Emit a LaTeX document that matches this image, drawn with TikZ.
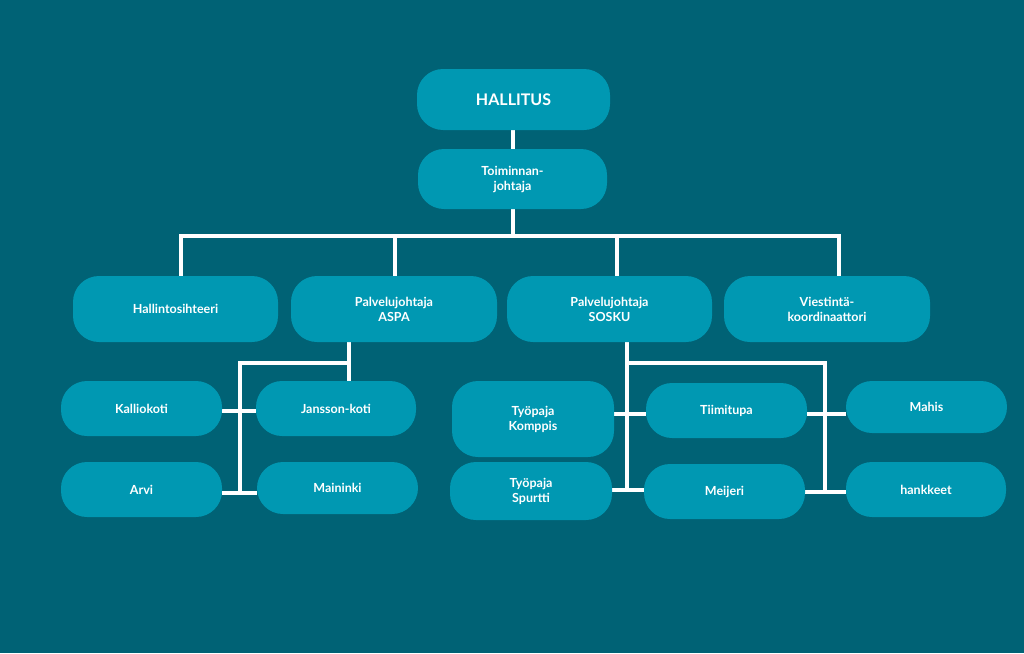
\documentclass[tikz,border=0pt]{standalone}
\usepackage{fontspec}
\setmainfont{Lato}
\definecolor{bg}{HTML}{006275}
\definecolor{bx}{HTML}{0098B2}
\begin{document}
\begin{tikzpicture}[x=1pt,y=-1pt,
  box/.style={fill=bx,rounded corners=26pt,align=center,text=white,font=\bfseries\fontsize{12.5}{15}\selectfont},
  ln/.style={white,line width=4pt}]
\fill[bg] (0,0) rectangle (1024,653);
\useasboundingbox (0,0) rectangle (1024,653);
\newcommand\bx[6]{\path[box] (#2,#3) rectangle (#4,#5); \node[text=white,align=center,font=\bfseries\fontsize{12.5}{15}\selectfont] (#1) at ({(#2+#4)/2},{(#3+#5)/2}) {#6};}
% connectors
\draw[ln] (513,130) -- (513,149);
\draw[ln] (513,209) -- (513,236);
\draw[ln] (181,276) -- (181,236) -- (839,236) -- (839,276);
\draw[ln] (395,236) -- (395,276);
\draw[ln] (617,236) -- (617,276);
\draw[ln] (349,342) -- (349,381);
\draw[ln] (349,363) -- (240,363) -- (240,493);
\draw[ln] (222,411) -- (256,411);
\draw[ln] (222,493) -- (257,493);
\draw[ln] (627,342) -- (627,490);
\draw[ln] (627,363) -- (825,363) -- (825,493);
\draw[ln] (614,414) -- (646,414);
\draw[ln] (807,414) -- (846,414);
\draw[ln] (612,490) -- (644,490);
\draw[ln] (805,492) -- (846,492);
% boxes
\bx{hal}{417}{69}{610}{130}{\fontsize{16}{19}\selectfont HALLITUS}
\bx{toi}{418}{149}{607}{209}{Toiminnan-\\johtaja}
\bx{hs}{73}{276}{278}{342}{Hallintosihteeri}
\bx{aspa}{291}{276}{497}{342}{Palvelujohtaja\\ASPA}
\bx{sosku}{507}{276}{712}{342}{Palvelujohtaja\\SOSKU}
\bx{vies}{724}{276}{930}{342}{Viestintä-\\koordinaattori}
\bx{kal}{61}{381}{222}{436}{Kalliokoti}
\bx{jan}{256}{381}{416}{436}{Jansson-koti}
\bx{arvi}{61}{462}{222}{517}{Arvi}
\bx{mai}{257}{462}{418}{514}{Maininki}
\bx{kom}{452}{381}{614}{457}{Työpaja\\Komppis}
\bx{tii}{646}{383}{807}{438}{Tiimitupa}
\bx{mah}{846}{381}{1007}{433}{Mahis}
\bx{spu}{450}{462}{612}{520}{Työpaja\\Spurtti}
\bx{mei}{644}{464}{805}{519}{Meijeri}
\bx{han}{846}{462}{1006}{517}{hankkeet}
\end{tikzpicture}
\end{document}
